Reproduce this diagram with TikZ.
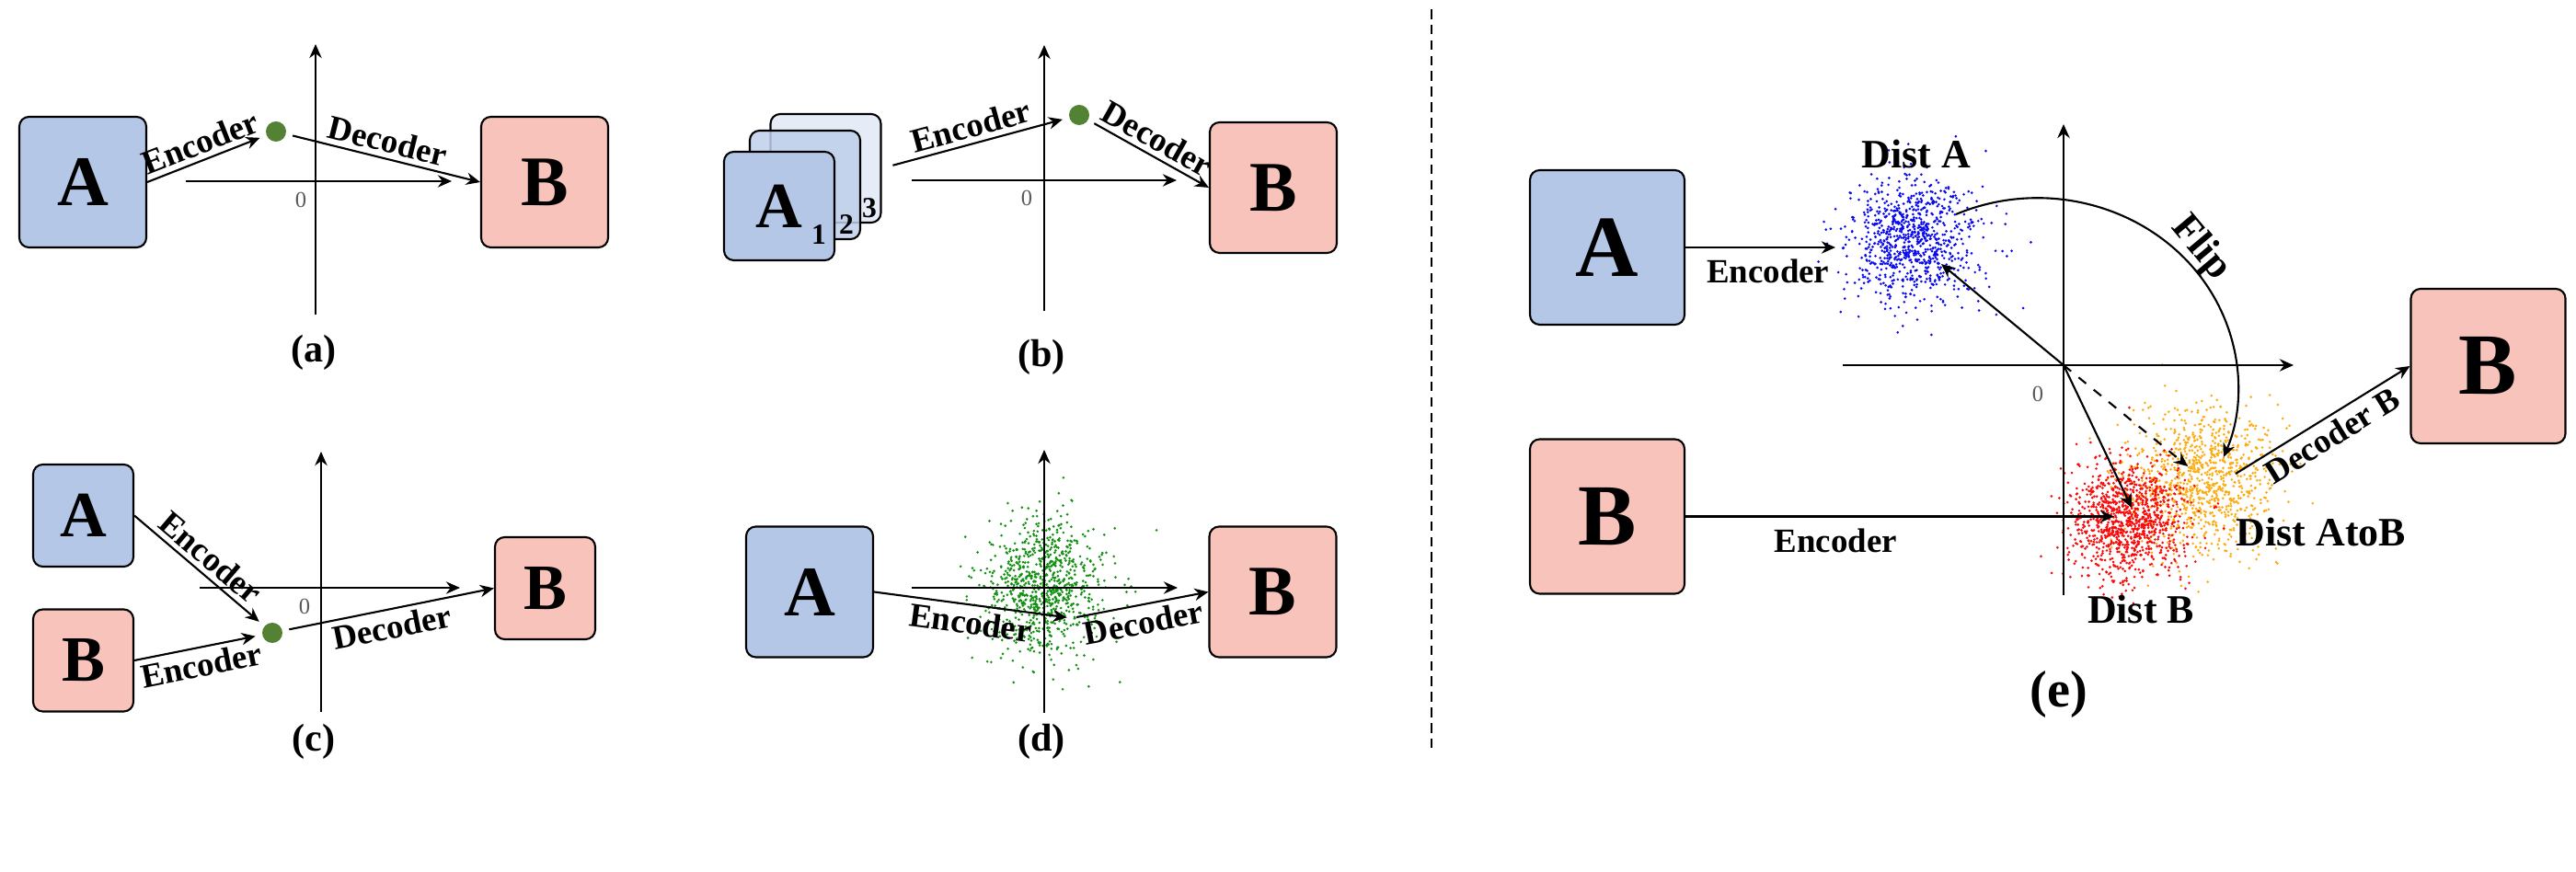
\documentclass[tikz,border=0pt]{standalone}
\usepackage{fontspec}
\setmainfont{Liberation Serif}
\usepackage{tikz}
\usetikzlibrary{arrows.meta}
\definecolor{boxA}{RGB}{180,199,231}
\definecolor{boxB}{RGB}{248,195,186}
\definecolor{latgreen}{RGB}{84,130,53}
\definecolor{ptgreen}{RGB}{20,145,20}
\definecolor{ptblue}{RGB}{10,10,240}
\definecolor{ptred}{RGB}{250,10,10}
\definecolor{ptorange}{RGB}{252,172,20}
\definecolor{zerogray}{RGB}{90,90,90}

\begin{document}
\begin{tikzpicture}
\tikzstyle{abox}=[rectangle,rounded corners=3pt,draw,line width=0.6pt,fill=boxA,minimum width=1.38cm,minimum height=1.42cm,inner sep=0pt,font=\fontsize{22}{22}\selectfont\bfseries]
\tikzstyle{bbox}=[abox,fill=boxB]
\tikzstyle{axis}=[->,line width=0.6pt,>={Stealth[length=4.3pt,width=3.8pt]}]
\tikzstyle{flow}=[->,line width=0.6pt,>={Stealth[length=4.3pt,width=3.8pt]}]
\tikzstyle{lbl}=[font=\fontsize{10.5}{10.5}\selectfont\bfseries,inner sep=1.5pt]
\tikzstyle{dlbl}=[font=\fontsize{12.5}{12.5}\selectfont\bfseries]
\tikzstyle{zero}=[font=\fontsize{7}{7}\selectfont,text=zerogray]
\tikzstyle{subcap}=[font=\fontsize{12}{12}\selectfont\bfseries]
\tikzstyle{latent}=[circle,fill=latgreen,minimum size=0.22cm,inner sep=0pt]
\tikzstyle{idx}=[font=\fontsize{9}{9}\selectfont\bfseries,inner sep=0pt]

\useasboundingbox (0,0) rectangle (28,-9.48);

% (a) single latent point
\node [abox] (Aa) at (0.90,-1.98) {A};
\node [bbox] (Ba) at (5.92,-1.98) {B};
\draw [axis] (3.43,-3.42) -- (3.43,-0.48);
\draw [axis] (2.02,-1.97) -- (4.91,-1.97);
\node [zero] (0a) at (3.27,-2.17) {0};
\node [latent] (za) at (3.00,-1.43) {};
\draw [flow,shorten >=2pt] (Aa.east) -- node[lbl,sloped,above]{Encoder} (za);
\draw [flow,shorten <=2pt] (za) -- node[lbl,sloped,above]{Decoder} (Ba.west);
\node [subcap] (capa) at (3.41,-3.83) {(a)};

% (b) several inputs, one latent point
\node [abox,fill=boxA!35,minimum width=1.2cm,minimum height=1.18cm] (A3) at (8.975,-1.83) {};
\node [abox,fill=boxA!85,fill opacity=0.85,minimum width=1.2cm,minimum height=1.18cm] (A2) at (8.75,-2.01) {};
\node [abox,minimum width=1.2cm,minimum height=1.18cm,font=\fontsize{20}{20}\selectfont\bfseries] (A1) at (8.47,-2.24) {A};
\node [idx] (n1) at (8.90,-2.55) {1};
\node [idx] (n2) at (9.20,-2.44) {2};
\node [idx] (n3) at (9.45,-2.26) {3};
\node [bbox] (Bb) at (13.84,-2.04) {B};
\draw [axis] (11.35,-3.38) -- (11.35,-0.49);
\draw [axis] (9.91,-1.96) -- (12.79,-1.96);
\node [zero] (0b) at (11.16,-2.15) {0};
\node [latent] (zb) at (11.73,-1.25) {};
\draw [flow,shorten <=3.5pt,shorten >=2pt] (A3.east) -- node[lbl,sloped,above]{Encoder} (zb);
\draw [flow,shorten <=2pt] (zb) -- node[lbl,sloped,above]{Decoder} (Bb.west);
\node [subcap] (capb) at (11.32,-3.88) {(b)};

% (c) two inputs, one latent point
\node [abox,minimum width=1.09cm,minimum height=1.11cm,font=\fontsize{20}{20}\selectfont\bfseries] (Ac) at (0.905,-5.605) {A};
\node [bbox,minimum width=1.09cm,minimum height=1.11cm,font=\fontsize{20}{20}\selectfont\bfseries] (Bc) at (0.905,-7.18) {B};
\node [bbox,minimum width=1.09cm,minimum height=1.11cm,font=\fontsize{20}{20}\selectfont\bfseries] (Bc2) at (5.925,-6.395) {B};
\draw [axis] (3.49,-7.74) -- (3.49,-4.91);
\draw [axis] (2.17,-6.39) -- (5.00,-6.39);
\node [zero] (0c) at (3.31,-6.59) {0};
\node [latent] (zc) at (2.96,-6.88) {};
\draw [flow,shorten >=2pt] (Ac.east) -- node[lbl,sloped,above]{Encoder} (zc);
\draw [flow,shorten >=2pt] (Bc.east) -- node[lbl,sloped,below]{Encoder} (zc);
\draw [flow,shorten <=2pt] (zc) -- node[lbl,sloped,below]{Decoder} (Bc2.west);
\node [subcap] (capc) at (3.41,-8.06) {(c)};

% (d) latent distribution
\node [abox] (Ad) at (8.80,-6.435) {A};
\node [bbox] (Bd) at (13.835,-6.435) {B};
\coordinate (cd) at (11.35,-6.40);
\pgfmathsetseed{11}
\foreach \k in {1,...,900}{
  \pgfmathsetmacro{\gr}{sqrt(-2*ln(max(rnd,0.0001)))}
  \pgfmathsetmacro{\ga}{360*rnd}
  \fill [ptgreen,shift={(cd)}] ({\gr*0.31*cos(\ga)},{\gr*0.38*sin(\ga)}) circle (0.42pt);
}
\draw [axis] (11.35,-7.75) -- (11.35,-4.89);
\draw [axis] (9.91,-6.39) -- (12.80,-6.39);
\coordinate (zd) at (11.65,-6.72);
\draw [flow,shorten >=1.5pt] (Ad.east) -- node[lbl,sloped,below]{Encoder} (zd);
\draw [flow,shorten <=1.5pt] (zd) -- node[lbl,sloped,below]{Decoder} (Bd.west);
\node [subcap] (capd) at (11.32,-8.06) {(d)};

\draw [line width=0.8pt,dash pattern=on 3pt off 1.8pt] (15.56,-0.10) -- (15.56,-8.15);

% (e) flipping the distribution
\node [abox,minimum width=1.68cm,minimum height=1.68cm,font=\fontsize{27}{27}\selectfont\bfseries] (Ae) at (17.47,-2.69) {A};
\node [bbox,minimum width=1.68cm,minimum height=1.68cm,font=\fontsize{27}{27}\selectfont\bfseries] (Be) at (17.47,-5.615) {B};
\node [bbox,minimum width=1.68cm,minimum height=1.68cm,font=\fontsize{27}{27}\selectfont\bfseries] (Bo) at (27.045,-3.98) {B};
\coordinate (O) at (22.43,-3.97);
\coordinate (cA) at (20.80,-2.60);
\coordinate (cB) at (23.13,-5.65);
\coordinate (cAB) at (23.95,-5.22);
\foreach \k in {1,...,900}{
  \pgfmathsetmacro{\gr}{sqrt(-2*ln(max(rnd,0.0001)))}
  \pgfmathsetmacro{\ga}{360*rnd}
  \fill [ptblue,shift={(cA)}] ({\gr*0.35*cos(\ga)},{\gr*0.35*sin(\ga)}) circle (0.42pt);
}
\foreach \k in {1,...,1000}{
  \pgfmathsetmacro{\gr}{sqrt(-2*ln(max(rnd,0.0001)))}
  \pgfmathsetmacro{\ga}{360*rnd}
  \fill [ptorange,shift={(cAB)}] ({\gr*0.38*cos(\ga)},{\gr*0.38*sin(\ga)}) circle (0.42pt);
}
\foreach \k in {1,...,1100}{
  \pgfmathsetmacro{\gr}{sqrt(-2*ln(max(rnd,0.0001)))}
  \pgfmathsetmacro{\ga}{360*rnd}
  \fill [ptred,shift={(cB)}] ({\gr*0.31*cos(\ga)},{\gr*0.31*sin(\ga)}) circle (0.42pt);
}
\draw [axis] (22.43,-6.47) -- (22.43,-1.35);
\draw [axis] (20.03,-3.97) -- (24.93,-3.97);
\node [zero] (0e) at (22.15,-4.28) {0};
\coordinate (tA) at (21.10,-2.87);
\coordinate (tB) at (23.17,-5.52);
\coordinate (tAB) at (23.78,-5.07);
\coordinate (eA) at (19.95,-2.69);
\coordinate (eB) at (22.98,-5.615);
\coordinate (dB) at (24.30,-5.15);
\coordinate (fS) at (21.26,-2.33);
\draw [flow] (O) -- (tA);
\draw [flow] (O) -- (tB);
\draw [flow,dashed] (O) -- (tAB);
\draw [flow] (Ae.east) -- node[lbl,below=2pt,pos=0.55]{Encoder} (eA);
\draw [flow] (Be.east) -- node[lbl,below=2pt,pos=0.35]{Encoder} (eB);
\draw [flow] (dB) -- node[lbl,sloped,below]{Decoder B} (Bo.west);
\draw [flow] (fS) arc[start angle=114,end angle=-22,x radius=2.18cm,y radius=2.05cm];
\node [dlbl,rotate=-50] (flip) at (23.92,-2.70) {Flip};
\node [dlbl] (distA) at (20.83,-1.67) {Dist A};
\node [dlbl] (distB) at (23.27,-6.62) {Dist B};
\node [dlbl] (distAB) at (25.23,-5.78) {Dist AtoB};
\node [subcap,font=\fontsize{16}{16}\selectfont\bfseries] (cape) at (22.38,-7.55) {(e)};

\end{tikzpicture}
\end{document}
